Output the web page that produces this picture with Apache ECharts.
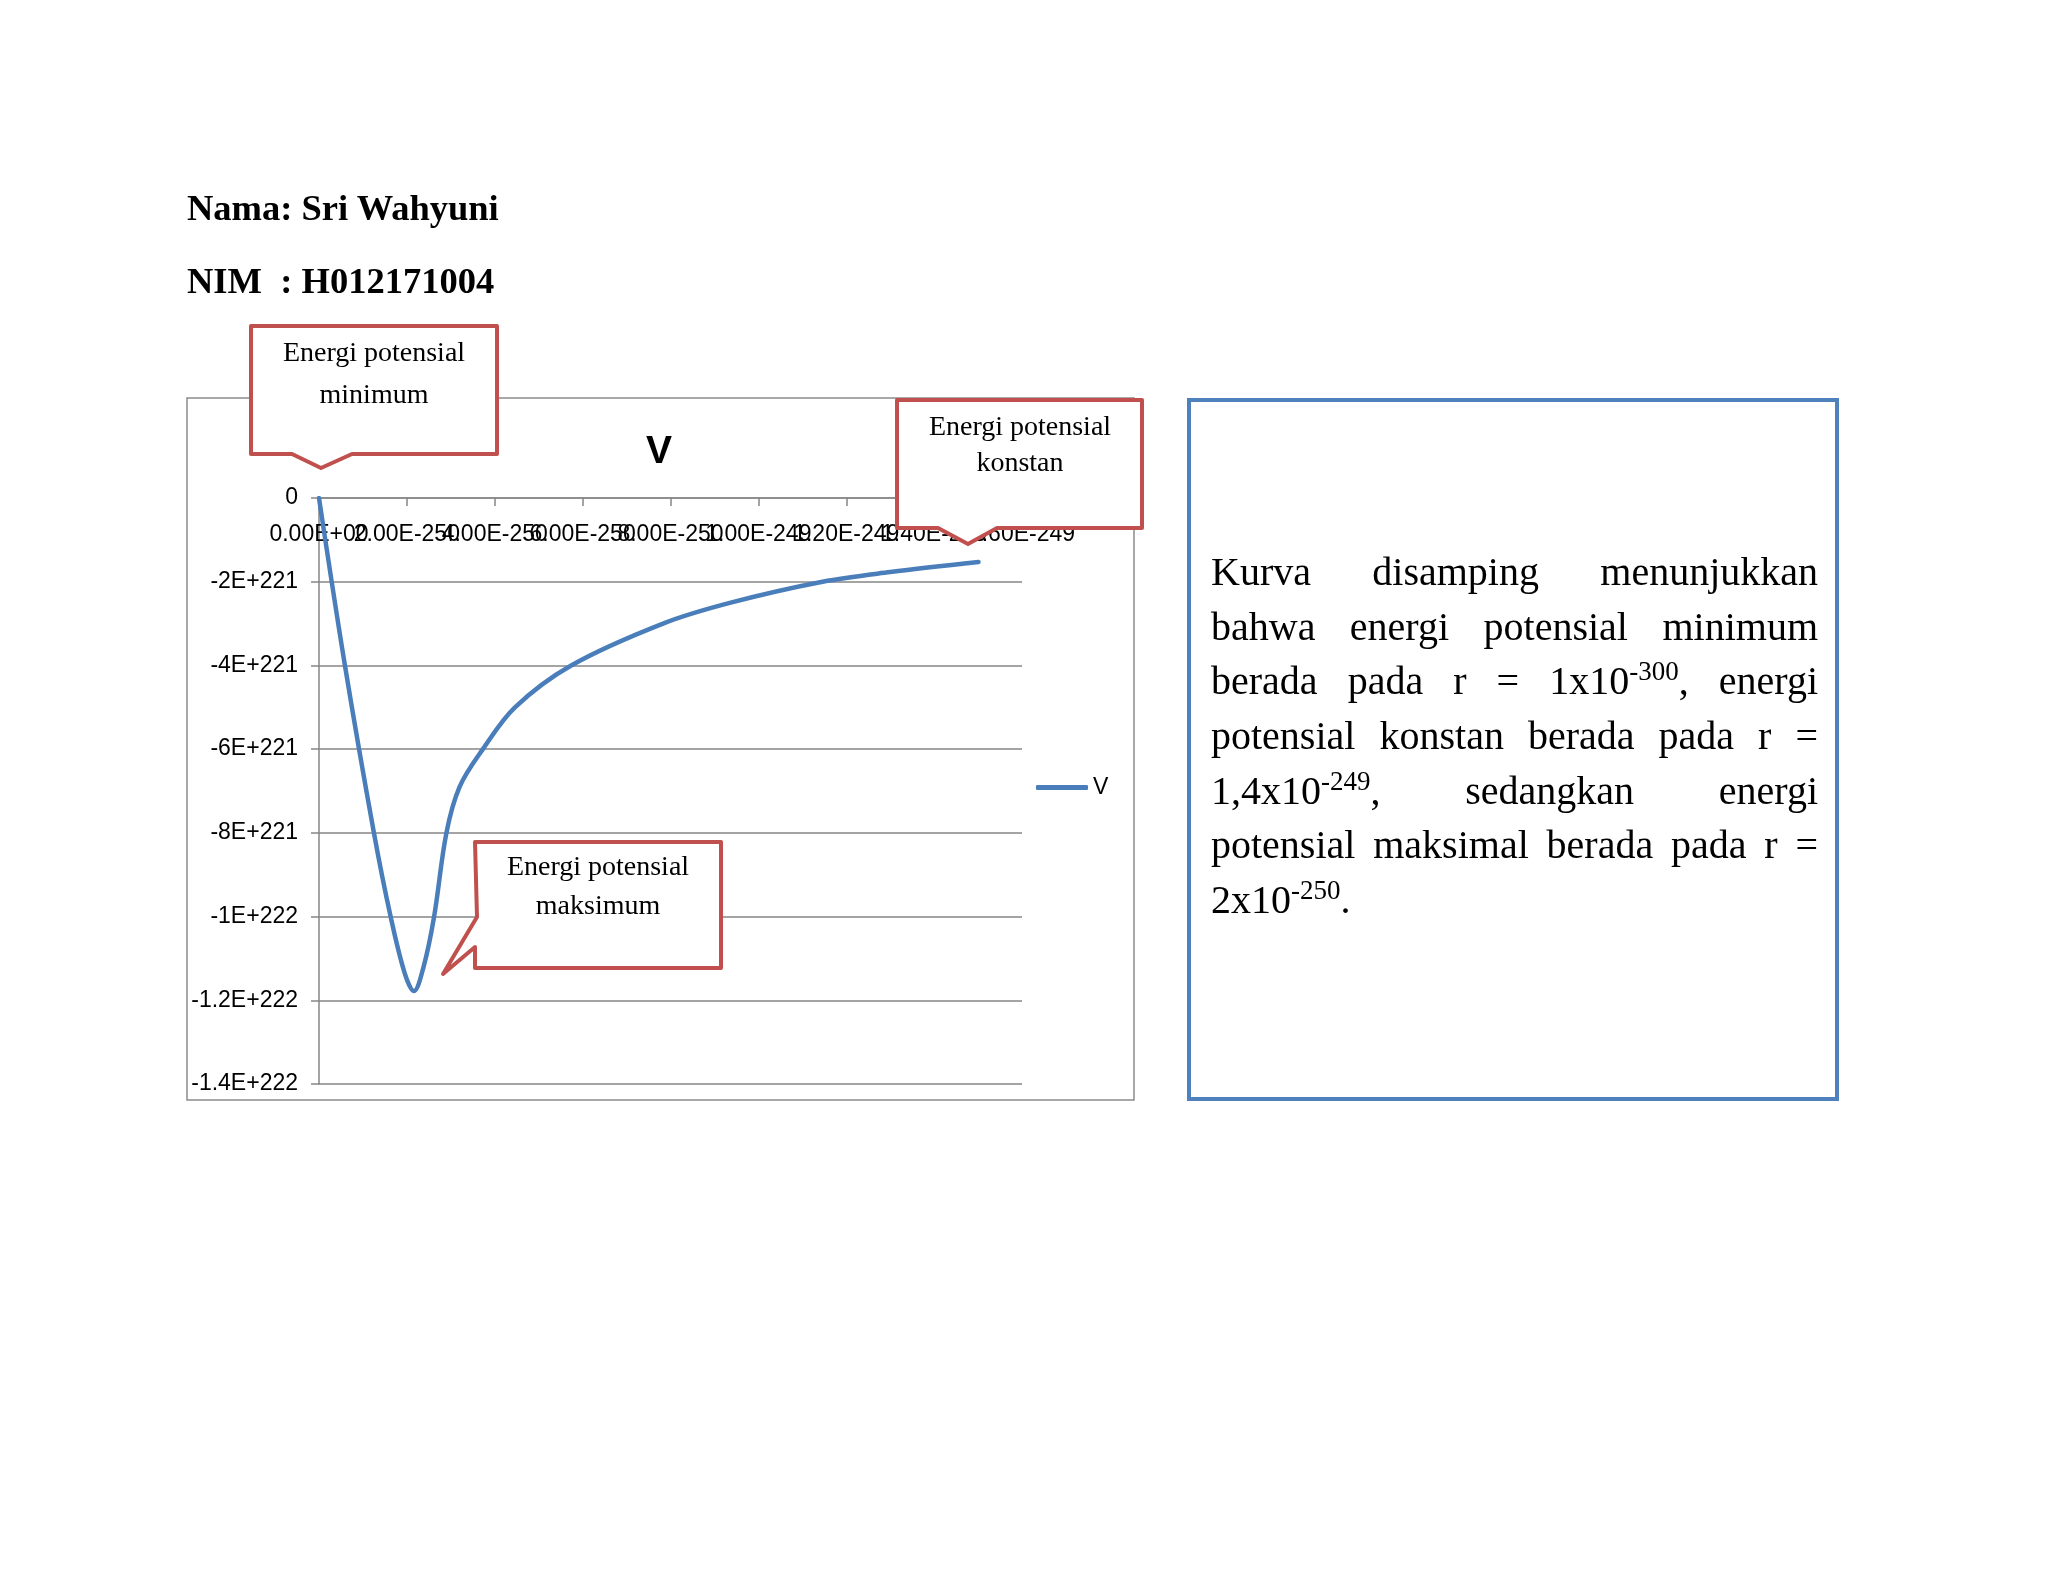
<!DOCTYPE html>
<html>
<head>
<meta charset="utf-8">
<script src="https://cdn.jsdelivr.net/npm/echarts@6/dist/echarts.min.js"></script>
<style>
  body { margin: 0; background: #fff; }
  .page { position: relative; width: 2048px; height: 1582px; overflow: hidden; }
  #chart { position: absolute; left: 0; top: 0; width: 2048px; height: 1582px; }
  .hdr { position: absolute; left: 187px; font: bold 36.5px 'Liberation Serif'; line-height: 36px; white-space: pre; color: #000; }
  .box { position: absolute; left: 1187px; top: 398px; width: 652px; height: 703px; box-sizing: border-box; border: 4px solid #4f81bd; }
  .para { position: absolute; left: 1211px; top: 545px; width: 607px; font: 40px 'Liberation Serif'; color: #000; }
  .para div { height: 54.7px; line-height: 54.7px; white-space: nowrap; text-align: justify; text-align-last: justify; }
  .para div.last { text-align: left; text-align-last: left; }
  .para sup { font-size: 27px; vertical-align: 14px; line-height: 0; }
</style>
</head>
<body>
<div class="page">
  <div id="chart"></div>
  <div class="hdr" style="top:190px">Nama: Sri Wahyuni</div>
  <div class="hdr" style="top:263px">NIM  : H012171004</div>
  <div class="box"></div>
  <div class="para">
    <div>Kurva disamping menunjukkan</div>
    <div>bahwa energi potensial minimum</div>
    <div>berada pada r = 1x10<sup>-300</sup>, energi</div>
    <div>potensial konstan berada pada r =</div>
    <div>1,4x10<sup>-249</sup>, sedangkan energi</div>
    <div>potensial maksimal berada pada r =</div>
    <div class="last">2x10<sup>-250</sup>.</div>
  </div>
</div>
<script>
// r in units of 1e-250, V in units of 1e221
const rVals = [0, 0.59, 1.25, 1.63, 1.95, 2.16, 2.38, 2.62, 2.90, 3.20, 3.73, 4.46, 5.74, 7.83, 9.37, 11.46, 13.0, 15.01];
const vVals = [0, -4, -8, -10, -11.35, -11.78, -11.2, -10, -8, -6.9, -6, -5, -4, -3, -2.5, -2, -1.77, -1.53];

const xMin = 0, xMax = 16, xStep = 2;
const yMin = -14, yMax = 0, yStep = 2;

const gray = '#868686';
const red = '#c0504d';
const axisFont = 'Liberation Sans';

// Excel style 0.00E+00 label, value given in units of 1e-250
const fmtX = (v) => {
  if (v === 0) return '0.00E+00';
  const e = Math.floor(Math.log10(v) + 1e-9);
  const m = v / Math.pow(10, e);
  const ex = e - 250;
  return m.toFixed(2) + 'E' + (ex < 0 ? '-' : '+') + String(Math.abs(ex)).padStart(2, '0');
};

// Excel "General" label, value given in units of 1e221
const fmtY = (v) => {
  if (v === 0) return '0';
  const a = Math.abs(v);
  const e = Math.floor(Math.log10(a) + 1e-9);
  const m = Math.round(a / Math.pow(10, e) * 1e6) / 1e6;
  return (v < 0 ? '-' : '') + m + 'E+' + (e + 221);
};

// the x labels overlap in the original, so they are split over two axes
// (even and odd ticks) to stop echarts from dropping any of them
const xLabelAxis = (odd, showLine) => ({
  type: 'value', min: xMin, max: xMax, interval: xStep,
  position: 'top',
  axisLine: { show: showLine, onZero: false, lineStyle: { color: gray, width: 1.5 } },
  axisTick: { show: showLine, inside: true, length: 8, lineStyle: { color: gray, width: 1.5 } },
  axisLabel: {
    inside: true, fontSize: 23, fontFamily: axisFont, color: '#000', margin: 25,
    showMinLabel: true, showMaxLabel: true,
    formatter: (v) => (Math.round(v / xStep) % 2 === (odd ? 1 : 0) ? fmtX(v) : '')
  },
  splitLine: { show: false }
});

const callout = (points, lines, cx, y0, gap) => {
  const els = [{
    type: 'polygon', z: 100,
    shape: { points: points },
    style: { fill: '#fff', stroke: red, lineWidth: 4, lineJoin: 'round' }
  }];
  lines.forEach((t, i) => {
    els.push({
      type: 'text', z: 101, x: cx, y: y0 + i * gap,
      style: { text: t, font: '28px "Liberation Serif"', fill: '#000', align: 'center', verticalAlign: 'middle' }
    });
  });
  return els;
};

const chart = echarts.init(document.getElementById('chart'));

chart.setOption({
  animation: false,
  grid: { left: 319, top: 498, width: 703, height: 586 },
  legend: {
    data: [{ name: 'V', icon: 'roundRect' }], left: 1036, top: 776, padding: 0,
    itemWidth: 52, itemHeight: 5,
    textStyle: { fontSize: 23, fontFamily: axisFont, color: '#000' }
  },
  xAxis: [xLabelAxis(false, true), xLabelAxis(true, false)],
  yAxis: {
    type: 'value', min: yMin, max: yMax, interval: yStep,
    axisLine: { show: true, lineStyle: { color: gray, width: 1.5 } },
    axisTick: { show: true, length: 8, lineStyle: { color: gray, width: 1.5 } },
    axisLabel: { formatter: fmtY, fontSize: 23, fontFamily: axisFont, color: '#000', margin: 21 },
    splitLine: { show: true, lineStyle: { color: gray, width: 1.5 } }
  },
  series: [{
    name: 'V',
    type: 'line',
    xAxisIndex: 0,
    data: rVals.map((r, i) => [r, vVals[i]]),
    smooth: 0.35,
    symbol: 'none',
    lineStyle: { color: '#4a7ebb', width: 4.5, cap: 'round' },
    itemStyle: { color: '#4a7ebb' }
  }],
  graphic: [
    {
      type: 'rect', z: -1,
      shape: { x: 187, y: 398, width: 947, height: 702 },
      style: { fill: 'none', stroke: '#8c8c8c', lineWidth: 1.5 }
    },
    {
      type: 'text', x: 659, y: 452,
      style: { text: 'V', font: 'bold 39px "Liberation Sans"', fill: '#000', align: 'center', verticalAlign: 'middle' }
    },
    ...callout([[251, 326], [497, 326], [497, 454], [352, 454], [321, 468], [292, 454], [251, 454]],
      ['Energi potensial', 'minimum'], 374, 354, 42),
    ...callout([[897, 400], [1142, 400], [1142, 528], [997, 528], [968, 544], [938, 528], [897, 528]],
      ['Energi potensial', 'konstan'], 1020, 428, 36),
    ...callout([[475, 842], [721, 842], [721, 968], [475, 968], [475, 947], [443, 974], [477, 917]],
      ['Energi potensial', 'maksimum'], 598, 868, 39)
  ]
});
</script>
</body>
</html>
